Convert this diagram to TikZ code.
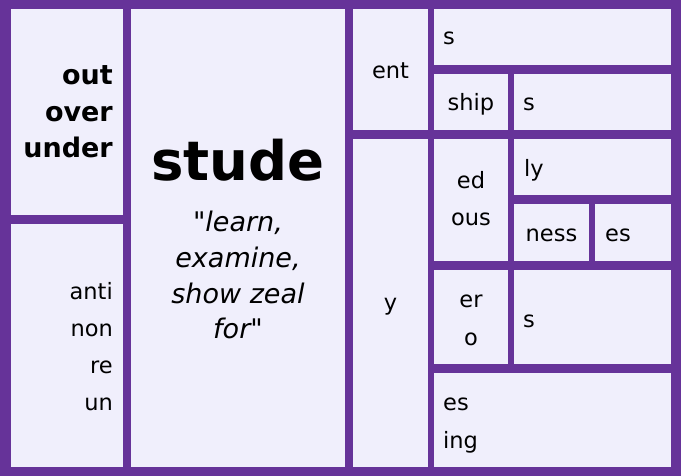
\documentclass[tikz,border=0pt]{standalone}
\usepackage{fontspec}
\setmainfont{DejaVu Sans}
\newfontfamily\dvplain{DejaVu Sans}
\definecolor{pp}{HTML}{663399}
\definecolor{lav}{HTML}{F0EFFC}
\tikzset{
  cell/.style={fill=lav},
  reg/.style={inner sep=0pt, anchor=base, font=\fontsize{22.5}{27}\selectfont},
  regl/.style={reg, anchor=base west},
  regr/.style={reg, anchor=base east},
  bld/.style={inner sep=0pt, anchor=base east, font=\fontsize{27}{32}\selectfont\bfseries},
  itl/.style={inner sep=0pt, anchor=base, font=\dvplain\fontsize{27}{32}\selectfont\itshape},
  big/.style={inner sep=0pt, anchor=base, font=\fontsize{54.5}{60}\selectfont\bfseries}
}
\begin{document}
\begin{tikzpicture}[x=1pt,y=-1pt]
\fill[pp] (0,0) rectangle (681,476);
\useasboundingbox (0,0) rectangle (681,476);
% cells
\fill[cell] (11,9) rectangle (123,215);
\fill[cell] (11,224) rectangle (123,467);
\fill[cell] (131,9) rectangle (345,467);
\fill[cell] (353,9) rectangle (428,130);
\fill[cell] (434,9) rectangle (671,65);
\fill[cell] (434,74) rectangle (508,130);
\fill[cell] (514,74) rectangle (671,130);
\fill[cell] (353,139) rectangle (428,467);
\fill[cell] (434,139) rectangle (508,261);
\fill[cell] (514,139) rectangle (671,195);
\fill[cell] (514,204) rectangle (589,261);
\fill[cell] (595,204) rectangle (671,261);
\fill[cell] (434,270) rectangle (508,364);
\fill[cell] (514,270) rectangle (671,364);
\fill[cell] (434,373) rectangle (671,467);
% prefixes
\node[bld] (out) at (113,85) {out};
\node[bld] (over) at (113,122) {over};
\node[bld] (under) at (113,158) {under};
\node[regr] (anti) at (113,299) {anti};
\node[regr] (non) at (113,336) {non};
\node[regr] (re) at (113,373) {re};
\node[regr] (un) at (113,410) {un};
% root
\node[big] (stude) at (238,181) {stude};
\node[itl] (m1) at (238,232) {"learn,};
\node[itl] (m2) at (238,268) {examine,};
\node[itl] (m3) at (238,303) {show zeal};
\node[itl] (m4) at (238,338) {for"};
% suffixes
\node[reg] (ent) at (390.5,79) {ent};
\node[regl] (s1) at (443,45) {s};
\node[reg] (ship) at (471,111) {ship};
\node[regl] (s2) at (523,111) {s};
\node[reg] (y) at (390.5,311) {y};
\node[reg] (ed) at (471,189) {ed};
\node[reg] (ous) at (471,226) {ous};
\node[regl] (ly) at (524,177) {ly};
\node[reg] (ness) at (551.5,242) {ness};
\node[regl] (es1) at (605,242) {es};
\node[reg] (er) at (471,308) {er};
\node[reg] (o) at (471,345) {o};
\node[regl] (s3) at (523,327) {s};
\node[regl] (es2) at (443,410) {es};
\node[regl] (ing) at (443,448) {ing};
\end{tikzpicture}
\end{document}
